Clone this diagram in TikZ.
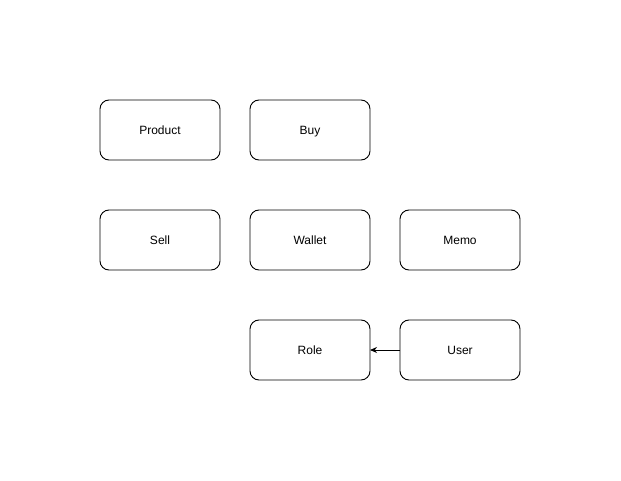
\documentclass[tikz,border=0pt]{standalone}
\usepackage{fontspec}
\setmainfont{Liberation Sans}
\usetikzlibrary{positioning,arrows.meta}

\begin{document}
\begin{tikzpicture}[x=1pt,y=-1pt,node distance=30pt and 30pt,>={Stealth[length=7pt,width=6pt]},
    entity/.style={draw,rounded corners=9pt,minimum width=120pt,minimum height=60pt,
      line width=0.9pt,outer sep=0pt,font=\fontsize{12}{14}\selectfont,inner sep=0pt,
      text height=8.6pt,text depth=0pt}]
    \useasboundingbox (0,0) rectangle (621,481);

    \node[entity] (product) at (160,130) {Product};
    \node[entity,right=of product] (buy) {Buy};
    \node[entity,below=50pt of product] (sell) {Sell};
    \node[entity,right=of sell] (wallet) {Wallet};
    \node[entity,right=of wallet] (memo) {Memo};
    \node[entity,below=50pt of wallet] (role) {Role};
    \node[entity,right=of role] (user) {User};

    \draw[->,line width=0.9pt] (user) -- (role);
\end{tikzpicture}
\end{document}
